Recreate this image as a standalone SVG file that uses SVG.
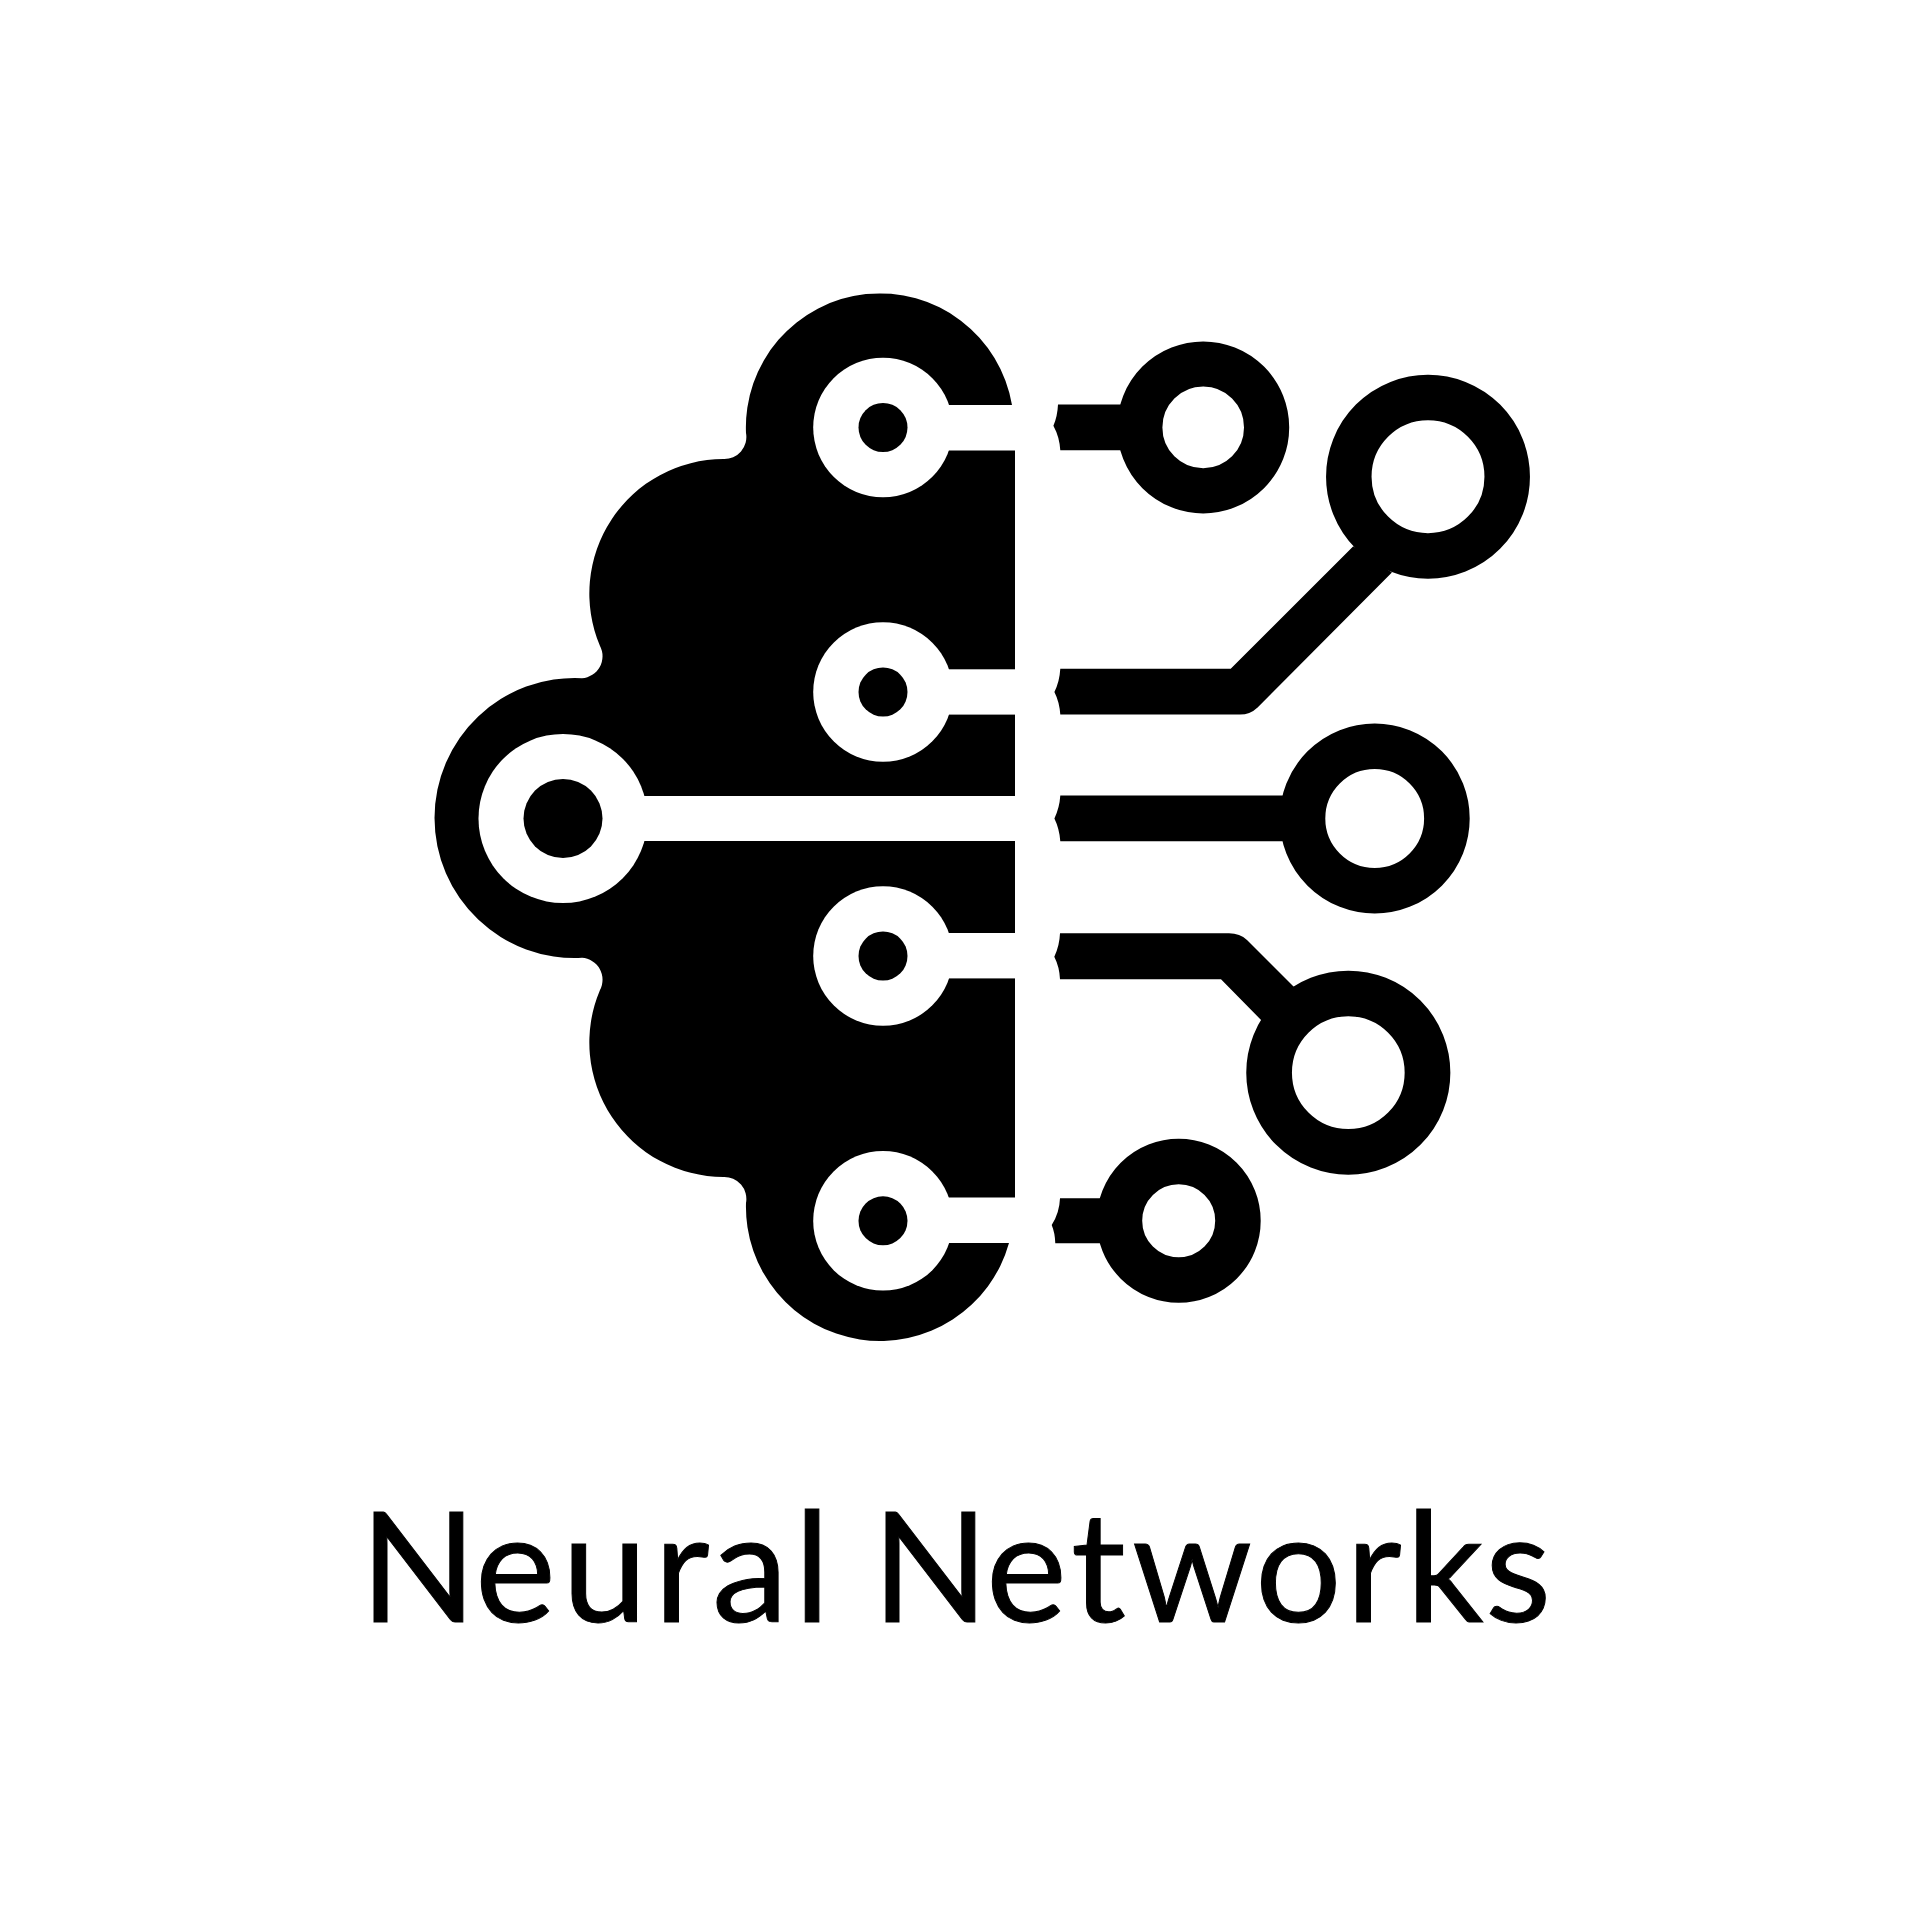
<svg xmlns="http://www.w3.org/2000/svg" width="1920" height="1920" viewBox="0 0 1920 1920">
<style>
.k{fill:#000}
.w{fill:#fff}
.ring{fill:#fff;stroke:#000}
.t{font-family:"Lato","Carlito","Liberation Sans",sans-serif;font-size:153px;fill:#000;stroke:#000;stroke-width:1}
</style>
<rect width="1920" height="1920" fill="#fff"/>
<g id="brain">
<path class="k" d="M1015 405H1012A134 134 0 0 0 746 433A22 22 0 0 1 723.500 459A134.500 134.500 0 0 0 600 646A22 22 0 0 1 582 678.200A140 140 0 1 0 582 957.800A22 22 0 0 1 600 990A134.500 134.500 0 0 0 723.500 1177A22 22 0 0 1 746 1203A134 134 0 0 0 1009 1243H1015Z"/>
<g id="slots">
<rect class="w" x="883" y="405" width="140" height="45.500"/>
<rect class="w" x="883" y="669.300" width="140" height="45.300"/>
<rect class="w" x="563" y="796" width="460" height="45"/>
<rect class="w" x="883" y="933" width="140" height="45.400"/>
<rect class="w" x="883" y="1197.500" width="140" height="45.500"/>
</g>
</g>
<g id="inner-node-1"><circle class="w" cx="883" cy="427.500" r="69.800"/><circle class="k" cx="883" cy="427.500" r="24.500"/></g>
<g id="inner-node-2"><circle class="w" cx="883" cy="692" r="69.800"/><circle class="k" cx="883" cy="692" r="24.500"/></g>
<g id="inner-node-3"><circle class="w" cx="563" cy="818.500" r="84.500"/><circle class="k" cx="563" cy="818.500" r="39.500"/></g>
<g id="inner-node-4"><circle class="w" cx="883" cy="956" r="69.800"/><circle class="k" cx="883" cy="956" r="24.500"/></g>
<g id="inner-node-5"><circle class="w" cx="883" cy="1220.800" r="69.800"/><circle class="k" cx="883" cy="1220.800" r="24.500"/></g>
<g id="connectors">
<path class="k" d="M1058 404.400H1140V450.200H1060.300Q1059.500 437 1053.400 425.700Q1057.500 416 1058 404.400Z"/>
<path class="k" d="M1060.300 668.800H1230.700L1353.300 546.200L1391.900 572.400L1257.600 707.400Q1250 714.600 1240 714.600H1060.300Q1059.500 702 1054.400 691.900Q1059.500 682 1060.300 668.800Z"/>
<path class="k" d="M1060.300 795.600H1300V841.300H1060.300Q1059.500 829 1054.400 818.500Q1059.500 808 1060.300 795.600Z"/>
<path class="k" d="M1060 933.300H1229Q1240 933.300 1247 940L1300 993L1265 1024L1221 979.300H1060Q1059.500 967 1054.300 956.700Q1059.500 946 1060 933.300Z"/>
<path class="k" d="M1060 1198.300H1130V1243.300H1055.300Q1055 1233 1051.700 1225Q1059.500 1213 1060 1198.300Z"/>
</g>
<g id="node-1"><circle class="ring" cx="1203.200" cy="427.400" r="63.400" stroke-width="45.200"/></g>
<g id="node-2"><circle class="ring" cx="1428" cy="476.700" r="79.200" stroke-width="45.500"/></g>
<g id="node-3"><circle class="ring" cx="1374.700" cy="818.500" r="72.200" stroke-width="45.600"/></g>
<g id="node-4"><circle class="ring" cx="1348.300" cy="1072.700" r="79.200" stroke-width="45.700"/></g>
<g id="node-5"><circle class="ring" cx="1178.700" cy="1220.700" r="59.250" stroke-width="45.500"/></g>
<text id="title" class="t" x="360 475 562 654 712 794 850 872 986 1071 1132 1255 1346 1406 1485" y="1622">Neural Networks</text>
</svg>
